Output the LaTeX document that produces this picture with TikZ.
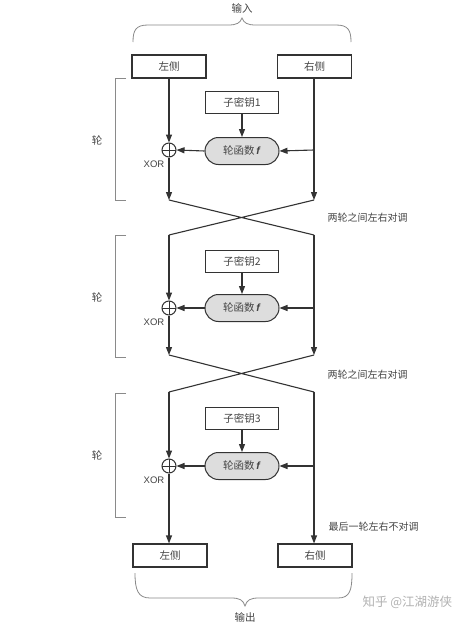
\documentclass[tikz,border=0pt]{standalone}
\usepackage{fontspec}
\setmainfont{Noto Sans CJK SC}
\newfontfamily\latinsans{Liberation Sans}
\usetikzlibrary{shapes.misc,arrows.meta}
\definecolor{ln}{HTML}{333333}
\definecolor{tx}{HTML}{444444}
\definecolor{ff}{HTML}{DDDDDD}
\definecolor{br}{HTML}{8A8A8A}
\begin{document}
\begin{tikzpicture}[x=1pt,y=-1pt,
  every node/.style={text=tx,font=\fontsize{10.5}{12}\selectfont},
  halfbox/.style={draw=ln,line width=1.1pt,minimum width=74pt,minimum height=23pt,inner sep=0pt},
  keybox/.style={draw=ln,line width=1pt,minimum width=73pt,minimum height=22pt,inner sep=0pt},
  fbox/.style={draw=ln,line width=1pt,fill=ff,rounded rectangle,minimum width=74pt,minimum height=27pt,inner sep=0pt},
  xorc/.style={draw=ln,line width=1pt,circle,minimum size=14pt,inner sep=0pt,
     path picture={\draw[ln,line width=0.9pt] (path picture bounding box.north) -- (path picture bounding box.south)
       (path picture bounding box.west) -- (path picture bounding box.east);}},
  wire/.style={draw=ln,line width=1.1pt},
  arr/.style={wire,-{Triangle[length=8pt,width=6pt]}},
  brk/.style={draw=br,line width=0.8pt},
  lab/.style={anchor=west,font=\fontsize{10}{12}\selectfont}
]
\useasboundingbox (0,0) rectangle (474,624);
\fill[white] (0,0) rectangle (474,624);

% input / output braces
\node (inlab) at (242,8) {输入};
\draw[brk] (133,42) .. controls (133,30) and (136,25) .. (148,25) -- (228,25)
  .. controls (237,25) and (240,23) .. (242,18) .. controls (244,23) and (247,25) .. (256,25)
  -- (336,25) .. controls (348,25) and (351,30) .. (351,42);
\draw[brk] (135,573) .. controls (135,590) and (138,598) .. (150,598) -- (231,598)
  .. controls (240,598) and (243,600) .. (245,606) .. controls (247,600) and (250,598) .. (259,598)
  -- (338,598) .. controls (350,598) and (352,590) .. (352,573);
\node (outlab) at (245,617) {输出};

% boxes
\node[halfbox] (inL) at (169,66.5) {左侧};
\node[halfbox] (inR) at (314.5,66.5) {右侧};
\node[halfbox] (outL) at (170,555.5) {左侧};
\node[halfbox] (outR) at (315,555.5) {右侧};

% round 1
\node[keybox] (k1) at (242,102) {子密钥1};
\node[fbox] (f1) at (242,151) {轮函数\,\textit{\textbf{\latinsans f}}};
\node[xorc] (x1) at (169,150) {};
\node[font=\latinsans\fontsize{9.5}{10}\selectfont] (xl1) at (154,164) {XOR};
\coordinate (b1) at (314,150);
\coordinate (e1L) at (169,200);
\coordinate (e1R) at (314,200);
\coordinate (s1L) at (169,235);
\coordinate (s1R) at (314,235);

% round 2
\node[keybox] (k2) at (242,261.5) {子密钥2};
\node[fbox] (f2) at (242,308) {轮函数\,\textit{\textbf{\latinsans f}}};
\node[xorc] (x2) at (169,308) {};
\node[font=\latinsans\fontsize{9.5}{10}\selectfont] (xl2) at (154,322) {XOR};
\coordinate (b2) at (314,308);
\coordinate (e2L) at (169,355);
\coordinate (e2R) at (314,355);
\coordinate (s2L) at (169,392);
\coordinate (s2R) at (314,392);

% round 3
\node[keybox] (k3) at (242,418.5) {子密钥3};
\node[fbox] (f3) at (242,466) {轮函数\,\textit{\textbf{\latinsans f}}};
\node[xorc] (x3) at (169,466) {};
\node[font=\latinsans\fontsize{9.5}{10}\selectfont] (xl3) at (154,480) {XOR};
\coordinate (b3) at (314,466);

% wires round 1
\draw[arr] (inL.south) -- (x1.north);
\draw[arr] (x1.south) -- (e1L);
\draw[arr] (inR.south -| b1) -- (e1R);
\draw[arr] (b1) -- (f1.east);
\draw[arr] (k1.south) -- (f1.north);
\draw[arr] (f1.west) -- (x1.east);
\draw[wire] (e1L) -- (s1R) (e1R) -- (s1L);

% wires round 2
\draw[arr] (s1L) -- (x2.north);
\draw[arr] (x2.south) -- (e2L);
\draw[arr] (s1R) -- (e2R);
\draw[arr] (b2) -- (f2.east);
\draw[arr] (k2.south) -- (f2.north);
\draw[arr] (f2.west) -- (x2.east);
\draw[wire] (e2L) -- (s2R) (e2R) -- (s2L);

% wires round 3
\draw[arr] (s2L) -- (x3.north);
\draw[arr] (x3.south) -- (x3.south |- outL.north);
\draw[arr] (s2R) -- (s2R |- outR.north);
\draw[arr] (b3) -- (f3.east);
\draw[arr] (k3.south) -- (f3.north);
\draw[arr] (f3.west) -- (x3.east);

% labels
\node[lab] (sw1) at (324,218) {两轮之间左右对调};
\node[lab] (sw2) at (324,375) {两轮之间左右对调};
\node[lab] (nosw) at (325,527) {最后一轮左右不对调};

% round brackets
\draw[brk] (126,78) -- (115,78) -- (115,200) -- (126,200);
\draw[brk] (126,235) -- (115,235) -- (115,357) -- (126,357);
\draw[brk] (126,393) -- (115,393) -- (115,517) -- (126,517);
\node (r1) at (97,140) {轮};
\node (r2) at (97,297) {轮};
\node (r3) at (97,455) {轮};

% watermark
\node[text=black!30,font=\fontsize{12.5}{14}\selectfont,anchor=west] (wm) at (359,602) {知乎 @江湖游侠};
\end{tikzpicture}
\end{document}
